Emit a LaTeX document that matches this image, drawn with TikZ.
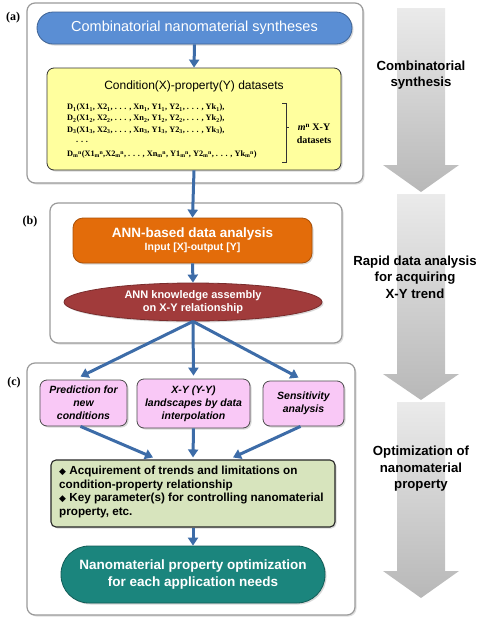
\documentclass[tikz,border=0pt]{standalone}
\usepackage{fontspec}
\setmainfont{Liberation Sans}
\newfontfamily\serifff{Liberation Serif}
\newfontfamily\symff{DejaVu Sans}
\usetikzlibrary{arrows.meta,shadows,shapes.geometric,calc}
\definecolor{flowblue}{HTML}{3D6CA8}
\definecolor{boxblue}{HTML}{5A8ED4}
\definecolor{boxyellow}{HTML}{FFFF9E}
\definecolor{boxorange}{HTML}{E36C0A}
\definecolor{boxred}{HTML}{A13B3B}
\definecolor{boxpink}{HTML}{F9C8F6}
\definecolor{boxgreen}{HTML}{D7E4BD}
\definecolor{boxteal}{HTML}{1B857D}
\definecolor{panelgray}{HTML}{9A9A9A}
\newcommand\mnidx{\textsubscript{m}\kern-0.5pt\textsuperscript{n}}
\newcommand\dsline[1]{D\textsubscript{#1}(X1\textsubscript{#1}, X2\textsubscript{#1}, . . . , Xn\textsubscript{#1}, Y1\textsubscript{#1}, Y2\textsubscript{#1}, . . . , Yk\textsubscript{#1}),}
\newcommand\bdia{{\symff\fontsize{9}{9}\selectfont ◆}}
\begin{document}
\begin{tikzpicture}[x=1pt,y=-1pt,
  panel/.style={draw=panelgray, line width=1.2pt, fill=white, rounded corners=8pt,
    drop shadow={opacity=0.25, shadow xshift=1.5pt, shadow yshift=-1.5pt}},
  flowbox/.style={inner sep=0pt, align=center, line width=0.8pt,
    drop shadow={opacity=0.3, shadow xshift=1.5pt, shadow yshift=-1.5pt}},
  flow/.style={draw=flowblue, line width=3pt, -{Triangle[width=10pt,length=8pt]}},
  biglabel/.style={font=\fontsize{13.2}{16.5}\selectfont\bfseries, align=center, inner sep=0pt},
  plabel/.style={font=\serifff\fontsize{12}{14}\selectfont\bfseries, inner sep=0pt},
  dtext/.style={font=\serifff\fontsize{8.3}{11}\selectfont\bfseries, anchor=west, inner sep=0pt},
  pinktext/.style={font=\fontsize{10.5}{12.8}\selectfont\bfseries\itshape},
  bigarrow/.style={top color=white!92!black, bottom color=white!72!black, draw=none}
]
\useasboundingbox (0,0) rectangle (479,619);

% big gray arrows
\shade[bigarrow] (397,8) -- (445,8) -- (445,165) -- (459,165) -- (421,192) -- (383,165) -- (397,165) -- cycle;
\shade[bigarrow] (397,194) -- (445,194) -- (445,374) -- (459,374) -- (421,400) -- (383,374) -- (397,374) -- cycle;
\shade[bigarrow] (397,402) -- (445,402) -- (445,571) -- (459,571) -- (421,598) -- (383,571) -- (397,571) -- cycle;
\node[biglabel] (lab1) at (421,75) {Combinatorial\\synthesis};
\node[biglabel] (lab2) at (415,277) {Rapid data analysis\\for acquiring\\X-Y trend};
\node[biglabel] (lab3) at (421,469) {Optimization of\\nanomaterial\\property};

% panels
\node[panel, minimum width=336pt, minimum height=180pt] (pa) at (195,93) {};
\node[panel, minimum width=292pt, minimum height=140pt] (pb) at (196,273) {};
\node[panel, minimum width=328pt, minimum height=252pt] (pc) at (191,489) {};
\node[plabel] (la) at (13,18) {(a)};
\node[plabel] (lb) at (30,222) {(b)};
\node[plabel] (lc) at (14,383) {(c)};

% panel a
\node[flowbox, draw=boxblue!70!black, fill=boxblue, rounded corners=16pt,
  minimum width=315pt, minimum height=32pt, text=white,
  font=\fontsize{14.5}{17}\selectfont] (blue) at (194.5,28) {Combinatorial nanomaterial syntheses};
\node[flowbox, draw=black!80, fill=boxyellow, rounded corners=7pt,
  minimum width=294pt, minimum height=102pt] (yel) at (194,119) {};
\node[font=\fontsize{12}{14}\selectfont, inner sep=0pt] (ytitle) at (194,86) {Condition(X)-property(Y) datasets};
\node[dtext] (d1) at (67,108) {\dsline{1}};
\node[dtext] (d2) at (67,119) {\dsline{2}};
\node[dtext] (d3) at (67,130) {\dsline{3}};
\node[dtext] (d4) at (76,142) {. . .};
\node[dtext] (d5) at (67,155) {D\mnidx(X1\mnidx,X2\mnidx, . . . , Xn\mnidx, Y1\mnidx, Y2\mnidx, . . . , Yk\mnidx)};
\draw[line width=0.6pt, black!80] (282,103) -- (286,103) -- (286,162) -- (282,162) (286,127) -- (289,127);
\node[font=\serifff\fontsize{10}{13}\selectfont\bfseries, align=center, inner sep=0pt] (mn) at (314,134) {\textit{m}\textsuperscript{n} X-Y\\datasets};

% panel b
\node[flowbox, draw=boxorange!75!black, fill=boxorange, rounded corners=10pt,
  minimum width=239pt, minimum height=45pt, text=white] (ann) at (192.5,240.5)
  {{\fontsize{13.5}{16}\selectfont\bfseries ANN-based data analysis}\\[1pt]{\fontsize{10.5}{12}\selectfont\bfseries Input [X]-output [Y]}};
\node[flowbox, ellipse, draw=boxred!75!black, fill=boxred, minimum width=258pt, minimum height=38pt,
  text=white, font=\fontsize{11}{13.5}\selectfont\bfseries] (ell) at (193,302)
  {ANN knowledge assembly\\on X-Y relationship};

% panel c
\node[flowbox, draw=black!70, fill=boxpink, rounded corners=7pt, minimum width=87pt, minimum height=46pt,
  pinktext] (p1) at (83.5,403) {Prediction for\\new\\conditions};
\node[flowbox, draw=black!70, fill=boxpink, rounded corners=7pt, minimum width=113pt, minimum height=49pt,
  pinktext] (p2) at (193.5,403.5) {X-Y (Y-Y)\\landscapes by data\\interpolation};
\node[flowbox, draw=black!70, fill=boxpink, rounded corners=7pt, minimum width=81pt, minimum height=45pt,
  pinktext] (p3) at (303.5,403.5) {Sensitivity\\analysis};
\node[flowbox, draw=black!85, line width=1.1pt, fill=boxgreen, rounded corners=5pt, minimum width=284pt, minimum height=67pt] (grn) at (193,493.5) {};
\node[anchor=north west, align=left, inner sep=0pt, font=\fontsize{11.7}{13.6}\selectfont\bfseries] (gtext) at (59,466)
  {\bdia\ Acquirement of trends and limitations on\\condition-property relationship\\\bdia\ Key parameter(s) for controlling nanomaterial\\property, etc.};
\node[flowbox, draw=boxteal!70!black, fill=boxteal, rounded corners=28pt, minimum width=264pt, minimum height=57pt,
  text=white, font=\fontsize{13.5}{17}\selectfont\bfseries] (teal) at (193,574.5)
  {Nanomaterial property optimization\\for each application needs};

% connectors
\coordinate (gl) at ($(grn.north)+(-40,-2)$);
\coordinate (gm) at ($(grn.north)+(0,-2)$);
\coordinate (gr) at ($(grn.north)+(40,-2)$);
\draw[flow] (blue.south) -- (yel.north);
\draw[flow] (yel.south) -- (ann.north);
\draw[flow] (ann.south) -- (ell.north);
\draw[flow] (ell.south) -- ($(p1.north)+(-3,-3)$);
\draw[flow] (ell.south) -- ($(p2.north)+(0,-3)$);
\draw[flow] (ell.south) -- ($(p3.north)+(-5,-3)$);
\draw[flow] ($(p1.south)+(-3,0)$) -- (gl);
\draw[flow] (p2.south) -- (gm);
\draw[flow] ($(p3.south)+(-3,0)$) -- (gr);
\draw[flow] (grn.south) -- (teal.north);
\end{tikzpicture}
\end{document}
